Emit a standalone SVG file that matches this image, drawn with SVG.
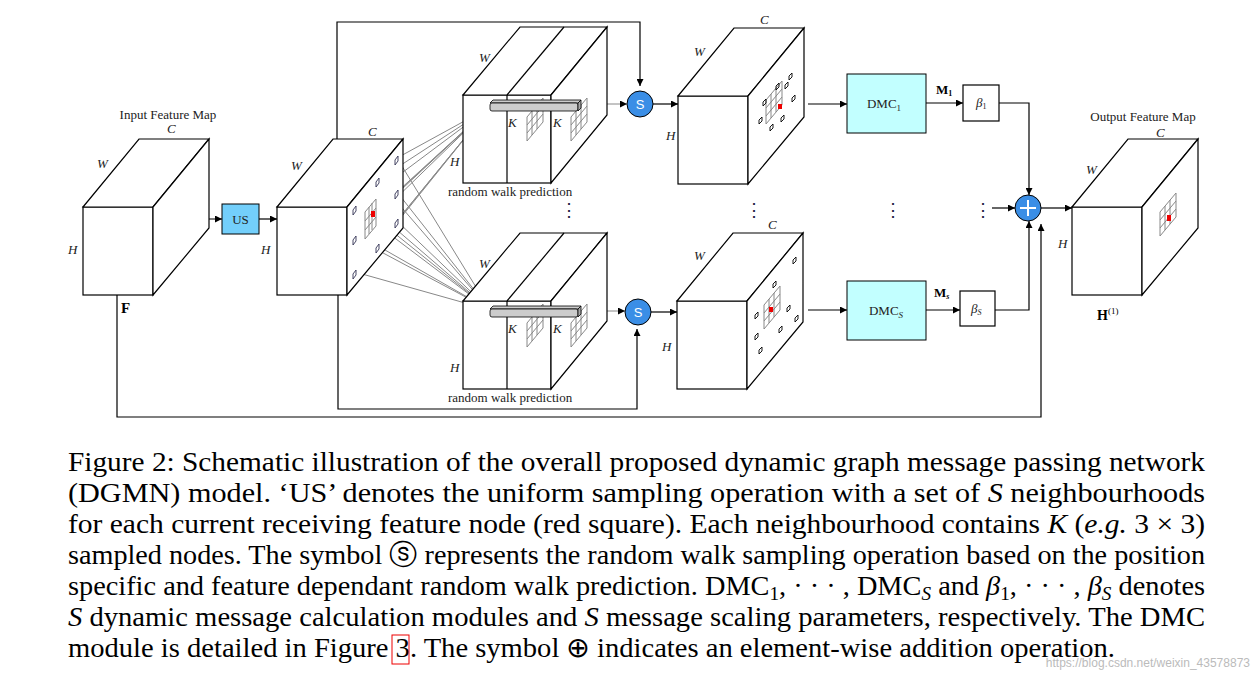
<svg xmlns="http://www.w3.org/2000/svg" xmlns:xlink="http://www.w3.org/1999/xlink" width="1259" height="682" viewBox="0 0 1259 682">
<style>
.l{fill:none;stroke:#000;stroke-width:1.2}
.g{fill:none;stroke:#888;stroke-width:1}
.f{fill:#fff;stroke:#000;stroke-width:1.2}
.t{font-family:"Liberation Serif",serif;font-size:13px;fill:#222}
.i{font-family:"Liberation Serif",serif;font-size:13px;font-style:italic;fill:#222}
.cap{font-family:"Liberation Serif",serif;font-size:28px;fill:#000}
.sq{fill:#fff;stroke:#335;stroke-width:0.9}
</style>
<defs>
<marker id="a" viewBox="0 0 10 10" refX="10" refY="5" markerWidth="9" markerHeight="7" orient="auto" markerUnits="userSpaceOnUse"><path d="M0,0L10,5L0,10z" fill="#000"/></marker>
<g id="cube"><rect class="f" x="0" y="0" width="70" height="88"/><path class="f" d="M0,0L56,-68L126,-68L70,0z"/><path class="f" d="M70,0L126,-68L126,21L70,88z"/></g>
<g id="grid"><path class="g" stroke-width="0.7" d="M0,6L16,-13M0,14L16,-5M0,22L16,3M0,30L16,11M0,6V30M5,0V24M10,-6V18M16,-13V11"/></g>
<g id="rw"><rect class="f" x="0" y="0" width="88" height="88"/><line class="l" x1="44" y1="0" x2="44" y2="88"/><path class="f" d="M0,0L57,-68L144,-68L88,0z"/><line class="l" x1="44" y1="0" x2="101" y2="-68"/><path class="f" d="M88,0L144,-68L144,20L88,88z"/>
<use xlink:href="#grid" x="64" y="16"/><use xlink:href="#grid" x="108" y="16"/>
<path d="M27,8L30,5L118,5L115,8z" fill="#ccc" stroke="#000" stroke-width="0.8"/><rect x="27" y="8" width="88" height="8" rx="2" fill="#ccc" stroke="#000" stroke-width="0.8"/><path d="M115,8L118,5L118,13L115,16z" fill="#aaa" stroke="#000" stroke-width="0.8"/>
<text class="i" x="45" y="32">K</text><text class="i" x="90" y="32">K</text>
<text class="i" x="16" y="-33">W</text><text class="i" x="-13" y="71">H</text>
<text class="t" x="-15" y="101">random walk prediction</text></g>
</defs>
<g id="connectors">
<path class="l" d="M337,183V22H640V86" marker-end="url(#a)"/>
<path class="l" d="M338,295V409H637V329" marker-end="url(#a)"/>
<path class="l" d="M117,295V417H1041V224" marker-end="url(#a)"/>
<path class="l" d="M188,219H222" marker-end="url(#a)"/>
<path class="l" d="M259,219H277" marker-end="url(#a)"/>
<path class="g" d="M580,104H627" stroke="#555" marker-end="url(#a)"/>
<path class="g" d="M580,311H625" stroke="#555" marker-end="url(#a)"/>
<path class="l" d="M653,104H678" marker-end="url(#a)"/>
<path class="l" d="M651,312H677" marker-end="url(#a)"/>
<path class="l" d="M808,104H847" marker-end="url(#a)"/>
<path class="l" d="M808,310H847" marker-end="url(#a)"/>
<path class="l" d="M926,103H963" marker-end="url(#a)"/>
<path class="l" d="M926,310H960" marker-end="url(#a)"/>
<path class="l" d="M999,103H1029V195" stroke="#555" marker-end="url(#a)"/>
<path class="l" d="M995,310H1029V221" marker-end="url(#a)"/>
<path class="l" d="M992,208H1015" stroke="#555" marker-end="url(#a)"/>
<path class="l" d="M1041,208H1072" marker-end="url(#a)"/>
<g class="g" stroke="#777">
<path d="M397,158L490,107M378,180L490,107M397,192L490,107M355,208L490,107M397,221L490,107M355,238L490,107M378,246L490,107M355,272L490,107M373,216L490,107M376,212L490,107"/>
<path d="M397,158L490,310M378,180L490,310M397,192L490,310M355,208L490,310M397,221L490,310M355,238L490,310M378,246L490,310M355,272L490,310M373,216L490,310M376,212L490,310"/>
</g>
</g>
<g id="input"><use xlink:href="#cube" x="83" y="207"/>
<text class="t" x="168" y="119" text-anchor="middle">Input Feature Map</text><text class="i" x="167" y="133">C</text><text class="i" x="97" y="168">W</text><text class="i" x="68" y="254">H</text>
<text x="121" y="313" font-family="Liberation Serif,serif" font-weight="bold" font-size="15">F</text></g>
<g id="us"><rect x="222" y="204" width="37" height="30" fill="#73cffb" stroke="#000"/><text class="t" x="240.5" y="224" text-anchor="middle">US</text></g>
<g id="sampled"><use xlink:href="#cube" x="277" y="207"/>
<text class="i" x="368" y="136">C</text><text class="i" x="291" y="170">W</text><text class="i" x="261" y="254">H</text>
<path class="g" stroke="#333" stroke-width="0.8" d="M365,212L376,199V226L365,239zM365,221L376,208M365,230L376,217M369,207V234M372,203V230"/>
<rect x="371" y="211" width="4" height="6" fill="#e00"/>
<g class="sq"><path d="M395,160l3,-4v5l-3,4z"/><path d="M376,182l3,-4v5l-3,4z"/><path d="M395,194l3,-4v5l-3,4z"/><path d="M353,210l3,-4v5l-3,4z"/><path d="M395,223l3,-4v5l-3,4z"/><path d="M353,240l3,-4v5l-3,4z"/><path d="M376,248l3,-4v5l-3,4z"/><path d="M353,274l3,-4v5l-3,4z"/></g></g>
<g id="rw1"><use xlink:href="#rw" x="463" y="95"/></g>
<g id="rw2"><use xlink:href="#rw" x="463" y="301"/></g>
<g id="s1"><circle cx="640" cy="104" r="13" fill="#3a8ee6" stroke="#000"/><text x="640" y="109" text-anchor="middle" font-family="Liberation Sans,sans-serif" font-size="13" fill="#fff">S</text></g>
<g id="s2"><circle cx="638" cy="312" r="13" fill="#3a8ee6" stroke="#000"/><text x="638" y="317" text-anchor="middle" font-family="Liberation Sans,sans-serif" font-size="13" fill="#fff">S</text></g>
<g id="cube3"><use xlink:href="#cube" x="678" y="96"/><text class="i" x="760" y="24">C</text><text class="i" x="694" y="56">W</text><text class="i" x="666" y="140">H</text>
<use xlink:href="#grid" x="766" y="94"/><rect x="778" y="104" width="4" height="5" fill="#e00"/>
<g fill="none" stroke="#000" stroke-width="0.9"><path d="M763,102l3,-3v4l-3,3z"/><path d="M776,86l3,-3v4l-3,3z"/><path d="M789,76l3,-3v4l-3,3z"/><path d="M792,98l3,-3v4l-3,3z"/><path d="M759,120l3,-3v4l-3,3z"/><path d="M770,127l3,-3v4l-3,3z"/><path d="M781,118l3,-3v4l-3,3z"/><path d="M785,85l3,-3v4l-3,3z"/></g></g>
<g id="cube4"><use xlink:href="#cube" x="677" y="301"/><text class="i" x="768" y="229">C</text><text class="i" x="694" y="260">W</text><text class="i" x="662" y="351">H</text>
<use xlink:href="#grid" x="764" y="299"/><rect x="769" y="307" width="4" height="5" fill="#e00"/>
<g fill="none" stroke="#000" stroke-width="0.9"><path d="M755,315l3,-3v4l-3,3z"/><path d="M773,284l3,-3v4l-3,3z"/><path d="M793,260l3,-3v4l-3,3z"/><path d="M787,308l3,-3v4l-3,3z"/><path d="M795,318l3,-3v4l-3,3z"/><path d="M755,336l3,-3v4l-3,3z"/><path d="M779,329l3,-3v4l-3,3z"/><path d="M759,350l3,-3v4l-3,3z"/></g></g>
<g id="dmc1"><rect x="847" y="74" width="79" height="59" fill="#c2ffff" stroke="#000"/><text class="t" x="884" y="108" text-anchor="middle">DMC<tspan font-size="9" dy="3">1</tspan></text></g>
<g id="dmcs"><rect x="847" y="281" width="79" height="59" fill="#c2ffff" stroke="#000"/><text class="t" x="886" y="315" text-anchor="middle">DMC<tspan font-size="9" dy="3" font-style="italic">S</tspan></text></g>
<text x="936" y="94" font-family="Liberation Serif,serif" font-weight="bold" font-size="13">M<tspan font-size="8" dy="2">1</tspan></text>
<text x="934" y="297" font-family="Liberation Serif,serif" font-weight="bold" font-size="13">M<tspan font-size="8" dy="2" font-style="italic">s</tspan></text>
<g id="b1"><rect x="963" y="85" width="36" height="36" class="f"/><text class="i" x="976" y="107">β<tspan font-size="8" dy="2" font-style="normal">1</tspan></text></g>
<g id="bs"><rect x="960" y="291" width="35" height="35" class="f"/><text class="i" x="971" y="313">β<tspan font-size="8" dy="2">S</tspan></text></g>
<g id="plus"><circle cx="1028" cy="208" r="13" fill="#3a8ee6" stroke="#000"/><path d="M1020,208H1036M1028,200V216" stroke="#fff" stroke-width="2"/></g>
<g id="output"><use xlink:href="#cube" x="1072" y="207"/>
<text class="t" x="1143" y="121" text-anchor="middle">Output Feature Map</text><text class="i" x="1156" y="137">C</text><text class="i" x="1086" y="174">W</text><text class="i" x="1058" y="248">H</text>
<text x="1097" y="320" font-family="Liberation Serif,serif" font-weight="bold" font-size="14">H<tspan font-size="9" dy="-6" font-weight="normal">(1)</tspan></text>
<use xlink:href="#grid" x="1160" y="206"/><rect x="1167" y="215" width="4" height="6" fill="#e00"/></g>
<g font-family="Liberation Serif,serif" font-size="18" fill="#224">
<text x="560" y="216">⋮</text><text x="745" y="216">⋮</text><text x="884" y="216">⋮</text><text x="974" y="216">⋮</text></g>
<g class="cap">
<text x="68" y="471" textLength="1137" lengthAdjust="spacingAndGlyphs">Figure 2: Schematic illustration of the overall proposed dynamic graph message passing network</text>
<text x="68" y="502" textLength="1137" lengthAdjust="spacingAndGlyphs">(DGMN) model.  ‘US’ denotes the uniform sampling operation with a set of <tspan font-style="italic">S</tspan> neighbourhoods</text>
<text x="68" y="533" textLength="1137" lengthAdjust="spacingAndGlyphs">for each current receiving feature node (red square). Each neighbourhood contains <tspan font-style="italic">K</tspan> (<tspan font-style="italic">e.g.</tspan> 3 × 3)</text>
<text x="68" y="564" textLength="1137" lengthAdjust="spacingAndGlyphs">sampled nodes. The symbol ⓢ represents the random walk sampling operation based on the position</text>
<text x="68" y="595" textLength="1137" lengthAdjust="spacingAndGlyphs">specific and feature dependant random walk prediction. DMC<tspan font-size="19" dy="5">1</tspan><tspan dy="-5">, · · · , DMC</tspan><tspan font-size="19" dy="5" font-style="italic">S</tspan><tspan dy="-5"> and </tspan><tspan font-style="italic">β</tspan><tspan font-size="19" dy="5">1</tspan><tspan dy="-5">, · · · , </tspan><tspan font-style="italic">β</tspan><tspan font-size="19" dy="5" font-style="italic">S</tspan><tspan dy="-5"> denotes</tspan></text>
<text x="68" y="626" textLength="1137" lengthAdjust="spacingAndGlyphs"><tspan font-style="italic">S</tspan> dynamic message calculation modules and <tspan font-style="italic">S</tspan> message scaling parameters, respectively. The DMC</text>
<text x="68" y="657" textLength="1047" lengthAdjust="spacingAndGlyphs">module is detailed in Figure 3. The symbol ⊕ indicates an element-wise addition operation.</text>
</g>
<rect x="392" y="635" width="17" height="29" fill="none" stroke="#e00" stroke-width="1"/>
<text x="1250" y="667" text-anchor="end" font-family="Liberation Sans,sans-serif" font-size="12" fill="#bbb">https://blog.csdn.net/weixin_43578873</text>
</svg>
